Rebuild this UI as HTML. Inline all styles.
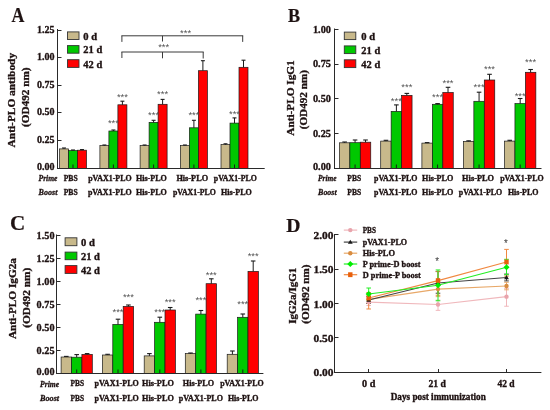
<!DOCTYPE html>
<html><head><meta charset="utf-8"><title>Figure</title>
<style>html,body{margin:0;padding:0;background:#fff;}svg{display:block;}</style>
</head><body>
<svg width="550" height="410" viewBox="0 0 550 410" font-family='"Liberation Serif", "Times New Roman", serif'>
<rect x="0" y="0" width="550" height="410" fill="#fff"/>
<rect x="59.5" y="148.9" width="9" height="19.6" fill="#c8b98b" stroke="#1a1a1a" stroke-width="0.7"/>
<line x1="64" y1="148.9" x2="64" y2="148" stroke="#1a1a1a" stroke-width="1"/>
<line x1="62.02" y1="148" x2="65.98" y2="148" stroke="#1a1a1a" stroke-width="1.1"/>
<rect x="68.5" y="150.6" width="9" height="17.9" fill="#00c800" stroke="#1a1a1a" stroke-width="0.7"/>
<line x1="73" y1="150.6" x2="73" y2="150" stroke="#1a1a1a" stroke-width="1"/>
<line x1="71.02" y1="150" x2="74.98" y2="150" stroke="#1a1a1a" stroke-width="1.1"/>
<rect x="77.5" y="150.2" width="9" height="18.3" fill="#ff0000" stroke="#1a1a1a" stroke-width="0.7"/>
<line x1="82" y1="150.2" x2="82" y2="149.6" stroke="#1a1a1a" stroke-width="1"/>
<line x1="80.02" y1="149.6" x2="83.98" y2="149.6" stroke="#1a1a1a" stroke-width="1.1"/>
<rect x="99.9" y="145.6" width="9" height="22.9" fill="#c8b98b" stroke="#1a1a1a" stroke-width="0.7"/>
<line x1="104.4" y1="145.6" x2="104.4" y2="145" stroke="#1a1a1a" stroke-width="1"/>
<line x1="102.42" y1="145" x2="106.38" y2="145" stroke="#1a1a1a" stroke-width="1.1"/>
<rect x="108.9" y="131" width="9" height="37.5" fill="#00c800" stroke="#1a1a1a" stroke-width="0.7"/>
<line x1="113.4" y1="131" x2="113.4" y2="130" stroke="#1a1a1a" stroke-width="1"/>
<line x1="111.42" y1="130" x2="115.38" y2="130" stroke="#1a1a1a" stroke-width="1.1"/>
<rect x="117.9" y="104.8" width="9" height="63.7" fill="#ff0000" stroke="#1a1a1a" stroke-width="0.7"/>
<line x1="122.4" y1="104.8" x2="122.4" y2="101.2" stroke="#1a1a1a" stroke-width="1"/>
<line x1="120.42" y1="101.2" x2="124.38" y2="101.2" stroke="#1a1a1a" stroke-width="1.1"/>
<rect x="140.1" y="145.6" width="9" height="22.9" fill="#c8b98b" stroke="#1a1a1a" stroke-width="0.7"/>
<line x1="144.6" y1="145.6" x2="144.6" y2="145" stroke="#1a1a1a" stroke-width="1"/>
<line x1="142.62" y1="145" x2="146.58" y2="145" stroke="#1a1a1a" stroke-width="1.1"/>
<rect x="149.1" y="122.4" width="9" height="46.1" fill="#00c800" stroke="#1a1a1a" stroke-width="0.7"/>
<line x1="153.6" y1="122.4" x2="153.6" y2="120.3" stroke="#1a1a1a" stroke-width="1"/>
<line x1="151.62" y1="120.3" x2="155.58" y2="120.3" stroke="#1a1a1a" stroke-width="1.1"/>
<rect x="158.1" y="104.3" width="9" height="64.2" fill="#ff0000" stroke="#1a1a1a" stroke-width="0.7"/>
<line x1="162.6" y1="104.3" x2="162.6" y2="99.4" stroke="#1a1a1a" stroke-width="1"/>
<line x1="160.62" y1="99.4" x2="164.58" y2="99.4" stroke="#1a1a1a" stroke-width="1.1"/>
<rect x="180.4" y="145.6" width="9" height="22.9" fill="#c8b98b" stroke="#1a1a1a" stroke-width="0.7"/>
<line x1="184.9" y1="145.6" x2="184.9" y2="145" stroke="#1a1a1a" stroke-width="1"/>
<line x1="182.92" y1="145" x2="186.88" y2="145" stroke="#1a1a1a" stroke-width="1.1"/>
<rect x="189.4" y="127.8" width="9" height="40.7" fill="#00c800" stroke="#1a1a1a" stroke-width="0.7"/>
<line x1="193.9" y1="127.8" x2="193.9" y2="120.3" stroke="#1a1a1a" stroke-width="1"/>
<line x1="191.92" y1="120.3" x2="195.88" y2="120.3" stroke="#1a1a1a" stroke-width="1.1"/>
<rect x="198.4" y="70.7" width="9" height="97.8" fill="#ff0000" stroke="#1a1a1a" stroke-width="0.7"/>
<line x1="202.9" y1="70.7" x2="202.9" y2="60.7" stroke="#1a1a1a" stroke-width="1"/>
<line x1="200.92" y1="60.7" x2="204.88" y2="60.7" stroke="#1a1a1a" stroke-width="1.1"/>
<rect x="221" y="144.6" width="9" height="23.9" fill="#c8b98b" stroke="#1a1a1a" stroke-width="0.7"/>
<line x1="225.5" y1="144.6" x2="225.5" y2="143.8" stroke="#1a1a1a" stroke-width="1"/>
<line x1="223.52" y1="143.8" x2="227.48" y2="143.8" stroke="#1a1a1a" stroke-width="1.1"/>
<rect x="230" y="123.1" width="9" height="45.4" fill="#00c800" stroke="#1a1a1a" stroke-width="0.7"/>
<line x1="234.5" y1="123.1" x2="234.5" y2="117.9" stroke="#1a1a1a" stroke-width="1"/>
<line x1="232.52" y1="117.9" x2="236.48" y2="117.9" stroke="#1a1a1a" stroke-width="1.1"/>
<rect x="239" y="67.3" width="9" height="101.2" fill="#ff0000" stroke="#1a1a1a" stroke-width="0.7"/>
<line x1="243.5" y1="67.3" x2="243.5" y2="60.2" stroke="#1a1a1a" stroke-width="1"/>
<line x1="241.52" y1="60.2" x2="245.48" y2="60.2" stroke="#1a1a1a" stroke-width="1.1"/>
<text x="107.9" y="126.12" font-family="Liberation Sans, Arial, sans-serif" font-size="9.2" fill="#505050" textLength="11" lengthAdjust="spacingAndGlyphs">***</text>
<text x="116.9" y="99.52" font-family="Liberation Sans, Arial, sans-serif" font-size="9.2" fill="#505050" textLength="11" lengthAdjust="spacingAndGlyphs">***</text>
<text x="148.1" y="117.92" font-family="Liberation Sans, Arial, sans-serif" font-size="9.2" fill="#505050" textLength="11" lengthAdjust="spacingAndGlyphs">***</text>
<text x="157.1" y="97.22" font-family="Liberation Sans, Arial, sans-serif" font-size="9.2" fill="#505050" textLength="11" lengthAdjust="spacingAndGlyphs">***</text>
<text x="188.4" y="117.92" font-family="Liberation Sans, Arial, sans-serif" font-size="9.2" fill="#505050" textLength="11" lengthAdjust="spacingAndGlyphs">***</text>
<text x="229" y="116.82" font-family="Liberation Sans, Arial, sans-serif" font-size="9.2" fill="#505050" textLength="11" lengthAdjust="spacingAndGlyphs">***</text>
<line x1="73" y1="164.5" x2="73" y2="168.5" stroke="#1a1a1a" stroke-width="1"/>
<line x1="113.4" y1="164.5" x2="113.4" y2="168.5" stroke="#1a1a1a" stroke-width="1"/>
<line x1="153.6" y1="164.5" x2="153.6" y2="168.5" stroke="#1a1a1a" stroke-width="1"/>
<line x1="193.9" y1="164.5" x2="193.9" y2="168.5" stroke="#1a1a1a" stroke-width="1"/>
<line x1="234.5" y1="164.5" x2="234.5" y2="168.5" stroke="#1a1a1a" stroke-width="1"/>
<line x1="57.5" y1="29" x2="57.5" y2="169" stroke="#2a2a2a" stroke-width="1"/>
<line x1="57" y1="168.5" x2="264.7" y2="168.5" stroke="#2a2a2a" stroke-width="1"/>
<text x="37" y="170.2" font-size="11.4" font-weight="bold" fill="#1e1212" stroke="#1e1212" stroke-width="0.35" textLength="17.6" lengthAdjust="spacingAndGlyphs">0.00</text>
<line x1="57.5" y1="140.5" x2="61.5" y2="140.5" stroke="#2a2a2a" stroke-width="1"/>
<text x="37" y="142.9" font-size="11.4" font-weight="bold" fill="#1e1212" stroke="#1e1212" stroke-width="0.35" textLength="17.6" lengthAdjust="spacingAndGlyphs">0.25</text>
<line x1="57.5" y1="112.5" x2="61.5" y2="112.5" stroke="#2a2a2a" stroke-width="1"/>
<text x="37" y="115.4" font-size="11.4" font-weight="bold" fill="#1e1212" stroke="#1e1212" stroke-width="0.35" textLength="17.6" lengthAdjust="spacingAndGlyphs">0.50</text>
<line x1="57.5" y1="85.5" x2="61.5" y2="85.5" stroke="#2a2a2a" stroke-width="1"/>
<text x="37" y="87.9" font-size="11.4" font-weight="bold" fill="#1e1212" stroke="#1e1212" stroke-width="0.35" textLength="17.6" lengthAdjust="spacingAndGlyphs">0.75</text>
<line x1="57.5" y1="57.5" x2="61.5" y2="57.5" stroke="#2a2a2a" stroke-width="1"/>
<text x="37" y="60.4" font-size="11.4" font-weight="bold" fill="#1e1212" stroke="#1e1212" stroke-width="0.35" textLength="17.6" lengthAdjust="spacingAndGlyphs">1.00</text>
<line x1="57.5" y1="30.5" x2="61.5" y2="30.5" stroke="#2a2a2a" stroke-width="1"/>
<text x="37" y="32.9" font-size="11.4" font-weight="bold" fill="#1e1212" stroke="#1e1212" stroke-width="0.35" textLength="17.6" lengthAdjust="spacingAndGlyphs">1.25</text>
<rect x="67.5" y="31.9" width="11.5" height="7.6" fill="#c8b98b" stroke="#333" stroke-width="0.9"/>
<text x="83.3" y="39.7" font-size="10" font-weight="bold" fill="#1e1212" stroke="#1e1212" stroke-width="0.35" textLength="13.8" lengthAdjust="spacingAndGlyphs">0 d</text>
<rect x="67.5" y="45.6" width="11.5" height="7.6" fill="#00c800" stroke="#333" stroke-width="0.9"/>
<text x="83.3" y="53.4" font-size="10" font-weight="bold" fill="#1e1212" stroke="#1e1212" stroke-width="0.35" textLength="18.9" lengthAdjust="spacingAndGlyphs">21 d</text>
<rect x="67.5" y="59.7" width="11.5" height="7.7" fill="#ff0000" stroke="#333" stroke-width="0.9"/>
<text x="83.3" y="67.6" font-size="10" font-weight="bold" fill="#1e1212" stroke="#1e1212" stroke-width="0.35" textLength="18.9" lengthAdjust="spacingAndGlyphs">42 d</text>
<text x="11.4" y="21.9" font-size="20" font-weight="bold" fill="#1e1212" stroke="#1e1212" stroke-width="0.2" textLength="12.9" lengthAdjust="spacingAndGlyphs">A</text>
<text transform="translate(15.4,147.4) scale(0.88,1) rotate(-90)" x="0" y="0" font-size="11.4" font-weight="bold" fill="#1e1212" stroke="#1e1212" stroke-width="0.35" textLength="94.5" lengthAdjust="spacingAndGlyphs">Anti-PLO antibody</text>
<text transform="translate(28.7,126.9) scale(0.88,1) rotate(-90)" x="0" y="0" font-size="11.3" font-weight="bold" fill="#1e1212" stroke="#1e1212" stroke-width="0.35" textLength="59.4" lengthAdjust="spacingAndGlyphs">(OD492 nm)</text>
<text x="38.6" y="180.5" font-size="8.6" font-weight="bold" font-style="italic" fill="#1e1212" stroke="#1e1212" stroke-width="0.3" textLength="18.8" lengthAdjust="spacingAndGlyphs">Prime</text>
<text x="38.6" y="195" font-size="8.6" font-weight="bold" font-style="italic" fill="#1e1212" stroke="#1e1212" stroke-width="0.3" textLength="18.8" lengthAdjust="spacingAndGlyphs">Boost</text>
<text x="63.7" y="180.6" font-size="8.6" font-weight="bold" fill="#1e1212" stroke="#1e1212" stroke-width="0.35" textLength="14" lengthAdjust="spacingAndGlyphs">PBS</text>
<text x="88.2" y="180.6" font-size="8.6" font-weight="bold" fill="#1e1212" stroke="#1e1212" stroke-width="0.35" textLength="43.5" lengthAdjust="spacingAndGlyphs">pVAX1-PLO</text>
<text x="135.9" y="180.6" font-size="8.6" font-weight="bold" fill="#1e1212" stroke="#1e1212" stroke-width="0.35" textLength="31" lengthAdjust="spacingAndGlyphs">His-PLO</text>
<text x="176.4" y="180.6" font-size="8.6" font-weight="bold" fill="#1e1212" stroke="#1e1212" stroke-width="0.35" textLength="31.7" lengthAdjust="spacingAndGlyphs">His-PLO</text>
<text x="213.8" y="180.6" font-size="8.6" font-weight="bold" fill="#1e1212" stroke="#1e1212" stroke-width="0.35" textLength="43" lengthAdjust="spacingAndGlyphs">pVAX1-PLO</text>
<text x="63.7" y="195" font-size="8.6" font-weight="bold" fill="#1e1212" stroke="#1e1212" stroke-width="0.35" textLength="14" lengthAdjust="spacingAndGlyphs">PBS</text>
<text x="87.9" y="195" font-size="8.6" font-weight="bold" fill="#1e1212" stroke="#1e1212" stroke-width="0.35" textLength="43.8" lengthAdjust="spacingAndGlyphs">pVAX1-PLO</text>
<text x="135.9" y="195" font-size="8.6" font-weight="bold" fill="#1e1212" stroke="#1e1212" stroke-width="0.35" textLength="31" lengthAdjust="spacingAndGlyphs">His-PLO</text>
<text x="172.9" y="195" font-size="8.6" font-weight="bold" fill="#1e1212" stroke="#1e1212" stroke-width="0.35" textLength="43" lengthAdjust="spacingAndGlyphs">pVAX1-PLO</text>
<text x="220.9" y="195" font-size="8.6" font-weight="bold" fill="#1e1212" stroke="#1e1212" stroke-width="0.35" textLength="31" lengthAdjust="spacingAndGlyphs">His-PLO</text>
<line x1="121.4" y1="35.8" x2="243.2" y2="35.8" stroke="#3a3a3a" stroke-width="1"/>
<line x1="121.9" y1="35.8" x2="121.9" y2="41.9" stroke="#3a3a3a" stroke-width="1"/>
<line x1="242.7" y1="35.8" x2="242.7" y2="41.9" stroke="#3a3a3a" stroke-width="1"/>
<line x1="162.5" y1="35.8" x2="162.5" y2="41.5" stroke="#3a3a3a" stroke-width="1"/>
<line x1="121.4" y1="52" x2="203.7" y2="52" stroke="#3a3a3a" stroke-width="1"/>
<line x1="121.9" y1="52" x2="121.9" y2="58" stroke="#3a3a3a" stroke-width="1"/>
<line x1="203.2" y1="52" x2="203.2" y2="58.5" stroke="#3a3a3a" stroke-width="1"/>
<line x1="162.5" y1="52" x2="162.5" y2="58.3" stroke="#3a3a3a" stroke-width="1"/>
<text x="180.1" y="36.12" font-family="Liberation Sans, Arial, sans-serif" font-size="9.2" fill="#505050" textLength="11" lengthAdjust="spacingAndGlyphs">***</text>
<text x="158.2" y="50.02" font-family="Liberation Sans, Arial, sans-serif" font-size="9.2" fill="#505050" textLength="11" lengthAdjust="spacingAndGlyphs">***</text>
<rect x="339.4" y="142.8" width="10.45" height="25.7" fill="#c8b98b" stroke="#1a1a1a" stroke-width="0.7"/>
<line x1="344.62" y1="142.8" x2="344.62" y2="142" stroke="#1a1a1a" stroke-width="1"/>
<line x1="342.33" y1="142" x2="346.92" y2="142" stroke="#1a1a1a" stroke-width="1.1"/>
<rect x="349.85" y="142.7" width="10.45" height="25.8" fill="#00c800" stroke="#1a1a1a" stroke-width="0.7"/>
<line x1="355.07" y1="142.7" x2="355.07" y2="140" stroke="#1a1a1a" stroke-width="1"/>
<line x1="352.78" y1="140" x2="357.37" y2="140" stroke="#1a1a1a" stroke-width="1.1"/>
<rect x="360.3" y="142.2" width="10.45" height="26.3" fill="#ff0000" stroke="#1a1a1a" stroke-width="0.7"/>
<line x1="365.52" y1="142.2" x2="365.52" y2="140" stroke="#1a1a1a" stroke-width="1"/>
<line x1="363.23" y1="140" x2="367.82" y2="140" stroke="#1a1a1a" stroke-width="1.1"/>
<rect x="380.7" y="141.1" width="10.45" height="27.4" fill="#c8b98b" stroke="#1a1a1a" stroke-width="0.7"/>
<line x1="385.93" y1="141.1" x2="385.93" y2="140.3" stroke="#1a1a1a" stroke-width="1"/>
<line x1="383.63" y1="140.3" x2="388.22" y2="140.3" stroke="#1a1a1a" stroke-width="1.1"/>
<rect x="391.15" y="111.4" width="10.45" height="57.1" fill="#00c800" stroke="#1a1a1a" stroke-width="0.7"/>
<line x1="396.38" y1="111.4" x2="396.38" y2="104.9" stroke="#1a1a1a" stroke-width="1"/>
<line x1="394.08" y1="104.9" x2="398.67" y2="104.9" stroke="#1a1a1a" stroke-width="1.1"/>
<rect x="401.6" y="95.4" width="10.45" height="73.1" fill="#ff0000" stroke="#1a1a1a" stroke-width="0.7"/>
<line x1="406.82" y1="95.4" x2="406.82" y2="93.4" stroke="#1a1a1a" stroke-width="1"/>
<line x1="404.53" y1="93.4" x2="409.12" y2="93.4" stroke="#1a1a1a" stroke-width="1.1"/>
<rect x="421.9" y="143.1" width="10.45" height="25.4" fill="#c8b98b" stroke="#1a1a1a" stroke-width="0.7"/>
<line x1="427.12" y1="143.1" x2="427.12" y2="142.6" stroke="#1a1a1a" stroke-width="1"/>
<line x1="424.83" y1="142.6" x2="429.42" y2="142.6" stroke="#1a1a1a" stroke-width="1.1"/>
<rect x="432.35" y="104.3" width="10.45" height="64.2" fill="#00c800" stroke="#1a1a1a" stroke-width="0.7"/>
<line x1="437.57" y1="104.3" x2="437.57" y2="103.6" stroke="#1a1a1a" stroke-width="1"/>
<line x1="435.28" y1="103.6" x2="439.87" y2="103.6" stroke="#1a1a1a" stroke-width="1.1"/>
<rect x="442.8" y="92.5" width="10.45" height="76" fill="#ff0000" stroke="#1a1a1a" stroke-width="0.7"/>
<line x1="448.02" y1="92.5" x2="448.02" y2="87.3" stroke="#1a1a1a" stroke-width="1"/>
<line x1="445.73" y1="87.3" x2="450.32" y2="87.3" stroke="#1a1a1a" stroke-width="1.1"/>
<rect x="463.4" y="141.4" width="10.45" height="27.1" fill="#c8b98b" stroke="#1a1a1a" stroke-width="0.7"/>
<line x1="468.62" y1="141.4" x2="468.62" y2="140.8" stroke="#1a1a1a" stroke-width="1"/>
<line x1="466.33" y1="140.8" x2="470.92" y2="140.8" stroke="#1a1a1a" stroke-width="1.1"/>
<rect x="473.85" y="101.3" width="10.45" height="67.2" fill="#00c800" stroke="#1a1a1a" stroke-width="0.7"/>
<line x1="479.07" y1="101.3" x2="479.07" y2="92.2" stroke="#1a1a1a" stroke-width="1"/>
<line x1="476.78" y1="92.2" x2="481.37" y2="92.2" stroke="#1a1a1a" stroke-width="1.1"/>
<rect x="484.3" y="80" width="10.45" height="88.5" fill="#ff0000" stroke="#1a1a1a" stroke-width="0.7"/>
<line x1="489.52" y1="80" x2="489.52" y2="74.3" stroke="#1a1a1a" stroke-width="1"/>
<line x1="487.23" y1="74.3" x2="491.82" y2="74.3" stroke="#1a1a1a" stroke-width="1.1"/>
<rect x="504.5" y="141.1" width="10.45" height="27.4" fill="#c8b98b" stroke="#1a1a1a" stroke-width="0.7"/>
<line x1="509.73" y1="141.1" x2="509.73" y2="140.3" stroke="#1a1a1a" stroke-width="1"/>
<line x1="507.43" y1="140.3" x2="512.02" y2="140.3" stroke="#1a1a1a" stroke-width="1.1"/>
<rect x="514.95" y="103.6" width="10.45" height="64.9" fill="#00c800" stroke="#1a1a1a" stroke-width="0.7"/>
<line x1="520.18" y1="103.6" x2="520.18" y2="98.5" stroke="#1a1a1a" stroke-width="1"/>
<line x1="517.88" y1="98.5" x2="522.47" y2="98.5" stroke="#1a1a1a" stroke-width="1.1"/>
<rect x="525.4" y="72.3" width="10.45" height="96.2" fill="#ff0000" stroke="#1a1a1a" stroke-width="0.7"/>
<line x1="530.62" y1="72.3" x2="530.62" y2="69.5" stroke="#1a1a1a" stroke-width="1"/>
<line x1="528.33" y1="69.5" x2="532.92" y2="69.5" stroke="#1a1a1a" stroke-width="1.1"/>
<text x="390.88" y="103.92" font-family="Liberation Sans, Arial, sans-serif" font-size="9.2" fill="#505050" textLength="11" lengthAdjust="spacingAndGlyphs">***</text>
<text x="401.32" y="90.32" font-family="Liberation Sans, Arial, sans-serif" font-size="9.2" fill="#505050" textLength="11" lengthAdjust="spacingAndGlyphs">***</text>
<text x="432.07" y="99.82" font-family="Liberation Sans, Arial, sans-serif" font-size="9.2" fill="#505050" textLength="11" lengthAdjust="spacingAndGlyphs">***</text>
<text x="442.52" y="85.92" font-family="Liberation Sans, Arial, sans-serif" font-size="9.2" fill="#505050" textLength="11" lengthAdjust="spacingAndGlyphs">***</text>
<text x="473.57" y="89.92" font-family="Liberation Sans, Arial, sans-serif" font-size="9.2" fill="#505050" textLength="11" lengthAdjust="spacingAndGlyphs">***</text>
<text x="484.02" y="71.92" font-family="Liberation Sans, Arial, sans-serif" font-size="9.2" fill="#505050" textLength="11" lengthAdjust="spacingAndGlyphs">***</text>
<text x="514.68" y="98.62" font-family="Liberation Sans, Arial, sans-serif" font-size="9.2" fill="#505050" textLength="11" lengthAdjust="spacingAndGlyphs">***</text>
<text x="525.12" y="65.42" font-family="Liberation Sans, Arial, sans-serif" font-size="9.2" fill="#505050" textLength="11" lengthAdjust="spacingAndGlyphs">***</text>
<line x1="355.07" y1="164.5" x2="355.07" y2="168.5" stroke="#1a1a1a" stroke-width="1"/>
<line x1="396.38" y1="164.5" x2="396.38" y2="168.5" stroke="#1a1a1a" stroke-width="1"/>
<line x1="437.57" y1="164.5" x2="437.57" y2="168.5" stroke="#1a1a1a" stroke-width="1"/>
<line x1="479.07" y1="164.5" x2="479.07" y2="168.5" stroke="#1a1a1a" stroke-width="1"/>
<line x1="520.17" y1="164.5" x2="520.17" y2="168.5" stroke="#1a1a1a" stroke-width="1"/>
<line x1="334.5" y1="28.5" x2="334.5" y2="169" stroke="#2a2a2a" stroke-width="1"/>
<line x1="334" y1="168.5" x2="541.5" y2="168.5" stroke="#2a2a2a" stroke-width="1"/>
<text x="312.9" y="169.7" font-size="11.4" font-weight="bold" fill="#1e1212" stroke="#1e1212" stroke-width="0.35" textLength="18.1" lengthAdjust="spacingAndGlyphs">0.00</text>
<line x1="334.5" y1="133.5" x2="338.5" y2="133.5" stroke="#2a2a2a" stroke-width="1"/>
<text x="312.9" y="136.8" font-size="11.4" font-weight="bold" fill="#1e1212" stroke="#1e1212" stroke-width="0.35" textLength="18.1" lengthAdjust="spacingAndGlyphs">0.25</text>
<line x1="334.5" y1="98.5" x2="338.5" y2="98.5" stroke="#2a2a2a" stroke-width="1"/>
<text x="312.9" y="102.1" font-size="11.4" font-weight="bold" fill="#1e1212" stroke="#1e1212" stroke-width="0.35" textLength="18.1" lengthAdjust="spacingAndGlyphs">0.50</text>
<line x1="334.5" y1="64.5" x2="338.5" y2="64.5" stroke="#2a2a2a" stroke-width="1"/>
<text x="312.9" y="67.4" font-size="11.4" font-weight="bold" fill="#1e1212" stroke="#1e1212" stroke-width="0.35" textLength="18.1" lengthAdjust="spacingAndGlyphs">0.75</text>
<line x1="334.5" y1="29.5" x2="338.5" y2="29.5" stroke="#2a2a2a" stroke-width="1"/>
<text x="312.9" y="32.7" font-size="11.4" font-weight="bold" fill="#1e1212" stroke="#1e1212" stroke-width="0.35" textLength="18.1" lengthAdjust="spacingAndGlyphs">1.00</text>
<rect x="344.3" y="32.1" width="11.5" height="7.5" fill="#c8b98b" stroke="#333" stroke-width="0.9"/>
<text x="361.3" y="39.8" font-size="10" font-weight="bold" fill="#1e1212" stroke="#1e1212" stroke-width="0.35" textLength="13.8" lengthAdjust="spacingAndGlyphs">0 d</text>
<rect x="344.3" y="45.9" width="11.5" height="7.7" fill="#00c800" stroke="#333" stroke-width="0.9"/>
<text x="361.3" y="53.8" font-size="10" font-weight="bold" fill="#1e1212" stroke="#1e1212" stroke-width="0.35" textLength="18.9" lengthAdjust="spacingAndGlyphs">21 d</text>
<rect x="344.3" y="59.8" width="11.5" height="7.8" fill="#ff0000" stroke="#333" stroke-width="0.9"/>
<text x="361.3" y="67.8" font-size="10" font-weight="bold" fill="#1e1212" stroke="#1e1212" stroke-width="0.35" textLength="18.9" lengthAdjust="spacingAndGlyphs">42 d</text>
<text x="288.1" y="21.9" font-size="19.5" font-weight="bold" fill="#1e1212" stroke="#1e1212" stroke-width="0.2" textLength="12.1" lengthAdjust="spacingAndGlyphs">B</text>
<text transform="translate(293.6,135.7) scale(0.88,1) rotate(-90)" x="0" y="0" font-size="11.3" font-weight="bold" fill="#1e1212" stroke="#1e1212" stroke-width="0.35" textLength="75.4" lengthAdjust="spacingAndGlyphs">Anti-PLO IgG1</text>
<text transform="translate(307.3,129.3) scale(0.88,1) rotate(-90)" x="0" y="0" font-size="11.2" font-weight="bold" fill="#1e1212" stroke="#1e1212" stroke-width="0.35" textLength="59.2" lengthAdjust="spacingAndGlyphs">(OD492 nm)</text>
<text x="318.1" y="181" font-size="8.6" font-weight="bold" font-style="italic" fill="#1e1212" stroke="#1e1212" stroke-width="0.3" textLength="18.5" lengthAdjust="spacingAndGlyphs">Prime</text>
<text x="318.1" y="195.3" font-size="8.6" font-weight="bold" font-style="italic" fill="#1e1212" stroke="#1e1212" stroke-width="0.3" textLength="18.5" lengthAdjust="spacingAndGlyphs">Boost</text>
<text x="347.3" y="180.9" font-size="8.6" font-weight="bold" fill="#1e1212" stroke="#1e1212" stroke-width="0.35" textLength="13.8" lengthAdjust="spacingAndGlyphs">PBS</text>
<text x="374" y="180.9" font-size="8.6" font-weight="bold" fill="#1e1212" stroke="#1e1212" stroke-width="0.35" textLength="43.5" lengthAdjust="spacingAndGlyphs">pVAX1-PLO</text>
<text x="422.1" y="180.9" font-size="8.6" font-weight="bold" fill="#1e1212" stroke="#1e1212" stroke-width="0.35" textLength="31.3" lengthAdjust="spacingAndGlyphs">His-PLO</text>
<text x="462.1" y="180.9" font-size="8.6" font-weight="bold" fill="#1e1212" stroke="#1e1212" stroke-width="0.35" textLength="32" lengthAdjust="spacingAndGlyphs">His-PLO</text>
<text x="500.2" y="180.9" font-size="8.6" font-weight="bold" fill="#1e1212" stroke="#1e1212" stroke-width="0.35" textLength="43.5" lengthAdjust="spacingAndGlyphs">pVAX1-PLO</text>
<text x="347.3" y="195.3" font-size="8.6" font-weight="bold" fill="#1e1212" stroke="#1e1212" stroke-width="0.35" textLength="13.8" lengthAdjust="spacingAndGlyphs">PBS</text>
<text x="374" y="195.3" font-size="8.6" font-weight="bold" fill="#1e1212" stroke="#1e1212" stroke-width="0.35" textLength="43.5" lengthAdjust="spacingAndGlyphs">pVAX1-PLO</text>
<text x="422.1" y="195.3" font-size="8.6" font-weight="bold" fill="#1e1212" stroke="#1e1212" stroke-width="0.35" textLength="31.3" lengthAdjust="spacingAndGlyphs">His-PLO</text>
<text x="458.8" y="195.3" font-size="8.6" font-weight="bold" fill="#1e1212" stroke="#1e1212" stroke-width="0.35" textLength="43.4" lengthAdjust="spacingAndGlyphs">pVAX1-PLO</text>
<text x="507.9" y="195.3" font-size="8.6" font-weight="bold" fill="#1e1212" stroke="#1e1212" stroke-width="0.35" textLength="30.7" lengthAdjust="spacingAndGlyphs">His-PLO</text>
<rect x="61.1" y="357" width="10.4" height="16.5" fill="#c8b98b" stroke="#1a1a1a" stroke-width="0.7"/>
<line x1="66.3" y1="357" x2="66.3" y2="356.4" stroke="#1a1a1a" stroke-width="1"/>
<line x1="64.01" y1="356.4" x2="68.59" y2="356.4" stroke="#1a1a1a" stroke-width="1.1"/>
<rect x="71.5" y="357.2" width="10.4" height="16.3" fill="#00c800" stroke="#1a1a1a" stroke-width="0.7"/>
<line x1="76.7" y1="357.2" x2="76.7" y2="354.6" stroke="#1a1a1a" stroke-width="1"/>
<line x1="74.41" y1="354.6" x2="78.99" y2="354.6" stroke="#1a1a1a" stroke-width="1.1"/>
<rect x="81.9" y="354.4" width="10.4" height="19.1" fill="#ff0000" stroke="#1a1a1a" stroke-width="0.7"/>
<line x1="87.1" y1="354.4" x2="87.1" y2="353.6" stroke="#1a1a1a" stroke-width="1"/>
<line x1="84.81" y1="353.6" x2="89.39" y2="353.6" stroke="#1a1a1a" stroke-width="1.1"/>
<rect x="102.4" y="355" width="10.4" height="18.5" fill="#c8b98b" stroke="#1a1a1a" stroke-width="0.7"/>
<line x1="107.6" y1="355" x2="107.6" y2="354.3" stroke="#1a1a1a" stroke-width="1"/>
<line x1="105.31" y1="354.3" x2="109.89" y2="354.3" stroke="#1a1a1a" stroke-width="1.1"/>
<rect x="112.8" y="324.4" width="10.4" height="49.1" fill="#00c800" stroke="#1a1a1a" stroke-width="0.7"/>
<line x1="118" y1="324.4" x2="118" y2="319.2" stroke="#1a1a1a" stroke-width="1"/>
<line x1="115.71" y1="319.2" x2="120.29" y2="319.2" stroke="#1a1a1a" stroke-width="1.1"/>
<rect x="123.2" y="306.4" width="10.4" height="67.1" fill="#ff0000" stroke="#1a1a1a" stroke-width="0.7"/>
<line x1="128.4" y1="306.4" x2="128.4" y2="305" stroke="#1a1a1a" stroke-width="1"/>
<line x1="126.11" y1="305" x2="130.69" y2="305" stroke="#1a1a1a" stroke-width="1.1"/>
<rect x="144.2" y="355.9" width="10.4" height="17.6" fill="#c8b98b" stroke="#1a1a1a" stroke-width="0.7"/>
<line x1="149.4" y1="355.9" x2="149.4" y2="353.6" stroke="#1a1a1a" stroke-width="1"/>
<line x1="147.11" y1="353.6" x2="151.69" y2="353.6" stroke="#1a1a1a" stroke-width="1.1"/>
<rect x="154.6" y="322.3" width="10.4" height="51.2" fill="#00c800" stroke="#1a1a1a" stroke-width="0.7"/>
<line x1="159.8" y1="322.3" x2="159.8" y2="317.2" stroke="#1a1a1a" stroke-width="1"/>
<line x1="157.51" y1="317.2" x2="162.09" y2="317.2" stroke="#1a1a1a" stroke-width="1.1"/>
<rect x="165" y="310" width="10.4" height="63.5" fill="#ff0000" stroke="#1a1a1a" stroke-width="0.7"/>
<line x1="170.2" y1="310" x2="170.2" y2="307.5" stroke="#1a1a1a" stroke-width="1"/>
<line x1="167.91" y1="307.5" x2="172.49" y2="307.5" stroke="#1a1a1a" stroke-width="1.1"/>
<rect x="185.3" y="353.6" width="10.4" height="19.9" fill="#c8b98b" stroke="#1a1a1a" stroke-width="0.7"/>
<line x1="190.5" y1="353.6" x2="190.5" y2="353" stroke="#1a1a1a" stroke-width="1"/>
<line x1="188.21" y1="353" x2="192.79" y2="353" stroke="#1a1a1a" stroke-width="1.1"/>
<rect x="195.7" y="314.1" width="10.4" height="59.4" fill="#00c800" stroke="#1a1a1a" stroke-width="0.7"/>
<line x1="200.9" y1="314.1" x2="200.9" y2="310.5" stroke="#1a1a1a" stroke-width="1"/>
<line x1="198.61" y1="310.5" x2="203.19" y2="310.5" stroke="#1a1a1a" stroke-width="1.1"/>
<rect x="206.1" y="283.7" width="10.4" height="89.8" fill="#ff0000" stroke="#1a1a1a" stroke-width="0.7"/>
<line x1="211.3" y1="283.7" x2="211.3" y2="278.8" stroke="#1a1a1a" stroke-width="1"/>
<line x1="209.01" y1="278.8" x2="213.59" y2="278.8" stroke="#1a1a1a" stroke-width="1.1"/>
<rect x="227.2" y="354.3" width="10.4" height="19.2" fill="#c8b98b" stroke="#1a1a1a" stroke-width="0.7"/>
<line x1="232.4" y1="354.3" x2="232.4" y2="351" stroke="#1a1a1a" stroke-width="1"/>
<line x1="230.11" y1="351" x2="234.69" y2="351" stroke="#1a1a1a" stroke-width="1.1"/>
<rect x="237.6" y="317.3" width="10.4" height="56.2" fill="#00c800" stroke="#1a1a1a" stroke-width="0.7"/>
<line x1="242.8" y1="317.3" x2="242.8" y2="314" stroke="#1a1a1a" stroke-width="1"/>
<line x1="240.51" y1="314" x2="245.09" y2="314" stroke="#1a1a1a" stroke-width="1.1"/>
<rect x="248" y="271.4" width="10.4" height="102.1" fill="#ff0000" stroke="#1a1a1a" stroke-width="0.7"/>
<line x1="253.2" y1="271.4" x2="253.2" y2="261" stroke="#1a1a1a" stroke-width="1"/>
<line x1="250.91" y1="261" x2="255.49" y2="261" stroke="#1a1a1a" stroke-width="1.1"/>
<text x="112.5" y="314.72" font-family="Liberation Sans, Arial, sans-serif" font-size="9.2" fill="#505050" textLength="11" lengthAdjust="spacingAndGlyphs">***</text>
<text x="122.9" y="299.62" font-family="Liberation Sans, Arial, sans-serif" font-size="9.2" fill="#505050" textLength="11" lengthAdjust="spacingAndGlyphs">***</text>
<text x="154.3" y="314.72" font-family="Liberation Sans, Arial, sans-serif" font-size="9.2" fill="#505050" textLength="11" lengthAdjust="spacingAndGlyphs">***</text>
<text x="164.7" y="305.22" font-family="Liberation Sans, Arial, sans-serif" font-size="9.2" fill="#505050" textLength="11" lengthAdjust="spacingAndGlyphs">***</text>
<text x="195.4" y="302.82" font-family="Liberation Sans, Arial, sans-serif" font-size="9.2" fill="#505050" textLength="11" lengthAdjust="spacingAndGlyphs">***</text>
<text x="205.8" y="277.82" font-family="Liberation Sans, Arial, sans-serif" font-size="9.2" fill="#505050" textLength="11" lengthAdjust="spacingAndGlyphs">***</text>
<text x="237.3" y="307.22" font-family="Liberation Sans, Arial, sans-serif" font-size="9.2" fill="#505050" textLength="11" lengthAdjust="spacingAndGlyphs">***</text>
<text x="247.7" y="259.12" font-family="Liberation Sans, Arial, sans-serif" font-size="9.2" fill="#505050" textLength="11" lengthAdjust="spacingAndGlyphs">***</text>
<line x1="76.7" y1="369.5" x2="76.7" y2="373.5" stroke="#1a1a1a" stroke-width="1"/>
<line x1="118" y1="369.5" x2="118" y2="373.5" stroke="#1a1a1a" stroke-width="1"/>
<line x1="159.8" y1="369.5" x2="159.8" y2="373.5" stroke="#1a1a1a" stroke-width="1"/>
<line x1="200.9" y1="369.5" x2="200.9" y2="373.5" stroke="#1a1a1a" stroke-width="1"/>
<line x1="242.8" y1="369.5" x2="242.8" y2="373.5" stroke="#1a1a1a" stroke-width="1"/>
<line x1="56.5" y1="234.5" x2="56.5" y2="374" stroke="#2a2a2a" stroke-width="1"/>
<line x1="56" y1="373.5" x2="263.4" y2="373.5" stroke="#2a2a2a" stroke-width="1"/>
<text x="36.6" y="374.6" font-size="11.4" font-weight="bold" fill="#1e1212" stroke="#1e1212" stroke-width="0.35" textLength="17.9" lengthAdjust="spacingAndGlyphs">0.00</text>
<line x1="56.5" y1="350.5" x2="60.5" y2="350.5" stroke="#2a2a2a" stroke-width="1"/>
<text x="36.6" y="353.5" font-size="11.4" font-weight="bold" fill="#1e1212" stroke="#1e1212" stroke-width="0.35" textLength="17.9" lengthAdjust="spacingAndGlyphs">0.25</text>
<line x1="56.5" y1="327.5" x2="60.5" y2="327.5" stroke="#2a2a2a" stroke-width="1"/>
<text x="36.6" y="330.6" font-size="11.4" font-weight="bold" fill="#1e1212" stroke="#1e1212" stroke-width="0.35" textLength="17.9" lengthAdjust="spacingAndGlyphs">0.50</text>
<line x1="56.5" y1="304.5" x2="60.5" y2="304.5" stroke="#2a2a2a" stroke-width="1"/>
<text x="36.6" y="307.7" font-size="11.4" font-weight="bold" fill="#1e1212" stroke="#1e1212" stroke-width="0.35" textLength="17.9" lengthAdjust="spacingAndGlyphs">0.75</text>
<line x1="56.5" y1="281.5" x2="60.5" y2="281.5" stroke="#2a2a2a" stroke-width="1"/>
<text x="36.6" y="284.8" font-size="11.4" font-weight="bold" fill="#1e1212" stroke="#1e1212" stroke-width="0.35" textLength="17.9" lengthAdjust="spacingAndGlyphs">1.00</text>
<line x1="56.5" y1="258.5" x2="60.5" y2="258.5" stroke="#2a2a2a" stroke-width="1"/>
<text x="36.6" y="261.9" font-size="11.4" font-weight="bold" fill="#1e1212" stroke="#1e1212" stroke-width="0.35" textLength="17.9" lengthAdjust="spacingAndGlyphs">1.25</text>
<line x1="56.5" y1="235.5" x2="60.5" y2="235.5" stroke="#2a2a2a" stroke-width="1"/>
<text x="36.6" y="239" font-size="11.4" font-weight="bold" fill="#1e1212" stroke="#1e1212" stroke-width="0.35" textLength="17.9" lengthAdjust="spacingAndGlyphs">1.50</text>
<rect x="65.1" y="237.8" width="11.8" height="7.9" fill="#c8b98b" stroke="#333" stroke-width="0.9"/>
<text x="81" y="245.9" font-size="10" font-weight="bold" fill="#1e1212" stroke="#1e1212" stroke-width="0.35" textLength="13.8" lengthAdjust="spacingAndGlyphs">0 d</text>
<rect x="65.1" y="252.1" width="11.8" height="7.6" fill="#00c800" stroke="#333" stroke-width="0.9"/>
<text x="81" y="259.9" font-size="10" font-weight="bold" fill="#1e1212" stroke="#1e1212" stroke-width="0.35" textLength="18.9" lengthAdjust="spacingAndGlyphs">21 d</text>
<rect x="65.1" y="265.6" width="11.8" height="7.8" fill="#ff0000" stroke="#333" stroke-width="0.9"/>
<text x="81" y="273.6" font-size="10" font-weight="bold" fill="#1e1212" stroke="#1e1212" stroke-width="0.35" textLength="18.9" lengthAdjust="spacingAndGlyphs">42 d</text>
<text x="10.1" y="230.3" font-size="20.5" font-weight="bold" fill="#1e1212" stroke="#1e1212" stroke-width="0.2" textLength="15.2" lengthAdjust="spacingAndGlyphs">C</text>
<text transform="translate(16,339.1) scale(0.88,1) rotate(-90)" x="0" y="0" font-size="11.3" font-weight="bold" fill="#1e1212" stroke="#1e1212" stroke-width="0.35" textLength="81.1" lengthAdjust="spacingAndGlyphs">Anti-PLO IgG2a</text>
<text transform="translate(30.2,327.8) scale(0.88,1) rotate(-90)" x="0" y="0" font-size="11.4" font-weight="bold" fill="#1e1212" stroke="#1e1212" stroke-width="0.35" textLength="60" lengthAdjust="spacingAndGlyphs">(OD492 nm)</text>
<text x="40.1" y="386.6" font-size="8.6" font-weight="bold" font-style="italic" fill="#1e1212" stroke="#1e1212" stroke-width="0.3" textLength="19" lengthAdjust="spacingAndGlyphs">Prime</text>
<text x="40.1" y="400.9" font-size="8.6" font-weight="bold" font-style="italic" fill="#1e1212" stroke="#1e1212" stroke-width="0.3" textLength="19" lengthAdjust="spacingAndGlyphs">Boost</text>
<text x="70.6" y="386.4" font-size="8.6" font-weight="bold" fill="#1e1212" stroke="#1e1212" stroke-width="0.35" textLength="13.5" lengthAdjust="spacingAndGlyphs">PBS</text>
<text x="94.6" y="386.4" font-size="8.6" font-weight="bold" fill="#1e1212" stroke="#1e1212" stroke-width="0.35" textLength="44.2" lengthAdjust="spacingAndGlyphs">pVAX1-PLO</text>
<text x="142.1" y="386.4" font-size="8.6" font-weight="bold" fill="#1e1212" stroke="#1e1212" stroke-width="0.35" textLength="31.8" lengthAdjust="spacingAndGlyphs">His-PLO</text>
<text x="182.8" y="386.4" font-size="8.6" font-weight="bold" fill="#1e1212" stroke="#1e1212" stroke-width="0.35" textLength="31.3" lengthAdjust="spacingAndGlyphs">His-PLO</text>
<text x="220.2" y="386.4" font-size="8.6" font-weight="bold" fill="#1e1212" stroke="#1e1212" stroke-width="0.35" textLength="43.5" lengthAdjust="spacingAndGlyphs">pVAX1-PLO</text>
<text x="70.6" y="400.9" font-size="8.6" font-weight="bold" fill="#1e1212" stroke="#1e1212" stroke-width="0.35" textLength="13.5" lengthAdjust="spacingAndGlyphs">PBS</text>
<text x="94.6" y="400.9" font-size="8.6" font-weight="bold" fill="#1e1212" stroke="#1e1212" stroke-width="0.35" textLength="44.2" lengthAdjust="spacingAndGlyphs">pVAX1-PLO</text>
<text x="142.1" y="400.9" font-size="8.6" font-weight="bold" fill="#1e1212" stroke="#1e1212" stroke-width="0.35" textLength="31.8" lengthAdjust="spacingAndGlyphs">His-PLO</text>
<text x="178.8" y="400.9" font-size="8.6" font-weight="bold" fill="#1e1212" stroke="#1e1212" stroke-width="0.35" textLength="44.2" lengthAdjust="spacingAndGlyphs">pVAX1-PLO</text>
<text x="227.9" y="400.9" font-size="8.6" font-weight="bold" fill="#1e1212" stroke="#1e1212" stroke-width="0.35" textLength="30.7" lengthAdjust="spacingAndGlyphs">His-PLO</text>
<line x1="368.7" y1="298.7" x2="368.7" y2="305.56" stroke="#f0b8bc" stroke-width="1"/>
<line x1="366.4" y1="298.7" x2="371" y2="298.7" stroke="#f0b8bc" stroke-width="1"/>
<line x1="366.4" y1="305.56" x2="371" y2="305.56" stroke="#f0b8bc" stroke-width="1"/>
<line x1="438" y1="300.07" x2="438" y2="310.35" stroke="#f0b8bc" stroke-width="1"/>
<line x1="435.7" y1="300.07" x2="440.3" y2="300.07" stroke="#f0b8bc" stroke-width="1"/>
<line x1="435.7" y1="310.35" x2="440.3" y2="310.35" stroke="#f0b8bc" stroke-width="1"/>
<line x1="506.5" y1="288.43" x2="506.5" y2="306.24" stroke="#f0b8bc" stroke-width="1"/>
<line x1="504.2" y1="288.43" x2="508.8" y2="288.43" stroke="#f0b8bc" stroke-width="1"/>
<line x1="504.2" y1="306.24" x2="508.8" y2="306.24" stroke="#f0b8bc" stroke-width="1"/>
<line x1="368.7" y1="295.28" x2="368.7" y2="303.5" stroke="#e8a868" stroke-width="1"/>
<line x1="366.4" y1="295.28" x2="371" y2="295.28" stroke="#e8a868" stroke-width="1"/>
<line x1="366.4" y1="303.5" x2="371" y2="303.5" stroke="#e8a868" stroke-width="1"/>
<line x1="438" y1="281.58" x2="438" y2="296.65" stroke="#e8a868" stroke-width="1"/>
<line x1="435.7" y1="281.58" x2="440.3" y2="281.58" stroke="#e8a868" stroke-width="1"/>
<line x1="435.7" y1="296.65" x2="440.3" y2="296.65" stroke="#e8a868" stroke-width="1"/>
<line x1="506.5" y1="282.26" x2="506.5" y2="289.8" stroke="#e8a868" stroke-width="1"/>
<line x1="504.2" y1="282.26" x2="508.8" y2="282.26" stroke="#e8a868" stroke-width="1"/>
<line x1="504.2" y1="289.8" x2="508.8" y2="289.8" stroke="#e8a868" stroke-width="1"/>
<line x1="368.7" y1="296.65" x2="368.7" y2="303.5" stroke="#444444" stroke-width="1"/>
<line x1="366.4" y1="296.65" x2="371" y2="296.65" stroke="#444444" stroke-width="1"/>
<line x1="366.4" y1="303.5" x2="371" y2="303.5" stroke="#444444" stroke-width="1"/>
<line x1="438" y1="271.58" x2="438" y2="293.23" stroke="#444444" stroke-width="1"/>
<line x1="435.7" y1="271.58" x2="440.3" y2="271.58" stroke="#444444" stroke-width="1"/>
<line x1="435.7" y1="293.23" x2="440.3" y2="293.23" stroke="#444444" stroke-width="1"/>
<line x1="506.5" y1="274.05" x2="506.5" y2="280.89" stroke="#444444" stroke-width="1"/>
<line x1="504.2" y1="274.05" x2="508.8" y2="274.05" stroke="#444444" stroke-width="1"/>
<line x1="504.2" y1="280.89" x2="508.8" y2="280.89" stroke="#444444" stroke-width="1"/>
<line x1="368.7" y1="292.54" x2="368.7" y2="308.98" stroke="#f08840" stroke-width="1"/>
<line x1="366.4" y1="292.54" x2="371" y2="292.54" stroke="#f08840" stroke-width="1"/>
<line x1="366.4" y1="308.98" x2="371" y2="308.98" stroke="#f08840" stroke-width="1"/>
<line x1="438" y1="271.31" x2="438" y2="295.28" stroke="#f08840" stroke-width="1"/>
<line x1="435.7" y1="271.31" x2="440.3" y2="271.31" stroke="#f08840" stroke-width="1"/>
<line x1="435.7" y1="295.28" x2="440.3" y2="295.28" stroke="#f08840" stroke-width="1"/>
<line x1="506.5" y1="249.38" x2="506.5" y2="276.1" stroke="#f08840" stroke-width="1"/>
<line x1="504.2" y1="249.38" x2="508.8" y2="249.38" stroke="#f08840" stroke-width="1"/>
<line x1="504.2" y1="276.1" x2="508.8" y2="276.1" stroke="#f08840" stroke-width="1"/>
<line x1="368.7" y1="288.02" x2="368.7" y2="300.07" stroke="#22ee22" stroke-width="1"/>
<line x1="366.4" y1="288.02" x2="371" y2="288.02" stroke="#22ee22" stroke-width="1"/>
<line x1="366.4" y1="300.07" x2="371" y2="300.07" stroke="#22ee22" stroke-width="1"/>
<line x1="438" y1="269.94" x2="438" y2="300.76" stroke="#22ee22" stroke-width="1"/>
<line x1="435.7" y1="269.94" x2="440.3" y2="269.94" stroke="#22ee22" stroke-width="1"/>
<line x1="435.7" y1="300.76" x2="440.3" y2="300.76" stroke="#22ee22" stroke-width="1"/>
<line x1="506.5" y1="259.32" x2="506.5" y2="274.73" stroke="#22ee22" stroke-width="1"/>
<line x1="504.2" y1="259.32" x2="508.8" y2="259.32" stroke="#22ee22" stroke-width="1"/>
<line x1="504.2" y1="274.73" x2="508.8" y2="274.73" stroke="#22ee22" stroke-width="1"/>
<polyline points="368.7,302.13 438,304.53 506.5,296.65" fill="none" stroke="#f0b8bc" stroke-width="1.1"/>
<polyline points="368.7,299.39 438,289.12 506.5,286.03" fill="none" stroke="#e8a868" stroke-width="1.1"/>
<polyline points="368.7,300.07 438,282.95 506.5,277.47" fill="none" stroke="#444444" stroke-width="1.1"/>
<polyline points="368.7,298.02 438,280.62 506.5,261.99" fill="none" stroke="#f08840" stroke-width="1.1"/>
<polyline points="368.7,293.98 438,285.21 506.5,267.26" fill="none" stroke="#22ee22" stroke-width="1.1"/>
<circle cx="368.7" cy="302.13" r="2.2" fill="#e8a4ac"/>
<circle cx="438" cy="304.53" r="2.2" fill="#e8a4ac"/>
<circle cx="506.5" cy="296.65" r="2.2" fill="#e8a4ac"/>
<circle cx="368.7" cy="299.39" r="2.2" fill="#d88c40"/>
<circle cx="438" cy="289.12" r="2.2" fill="#d88c40"/>
<circle cx="506.5" cy="286.03" r="2.2" fill="#d88c40"/>
<polygon points="368.7,297.65 366.28,301.83 371.12,301.83" fill="#1a1a1a"/>
<polygon points="438,280.53 435.58,284.71 440.42,284.71" fill="#1a1a1a"/>
<polygon points="506.5,275.05 504.08,279.23 508.92,279.23" fill="#1a1a1a"/>
<rect x="366.5" y="295.6" width="4.4" height="4.84" fill="#e8600c"/>
<rect x="435.8" y="278.2" width="4.4" height="4.84" fill="#e8600c"/>
<rect x="504.3" y="259.57" width="4.4" height="4.84" fill="#e8600c"/>
<polygon points="368.7,290.9 371.78,293.98 368.7,297.06 365.62,293.98" fill="#00ee00"/>
<polygon points="438,282.13 441.08,285.21 438,288.29 434.92,285.21" fill="#00ee00"/>
<polygon points="506.5,264.18 509.58,267.26 506.5,270.34 503.42,267.26" fill="#00ee00"/>
<line x1="334.5" y1="234" x2="334.5" y2="373" stroke="#2a2a2a" stroke-width="1"/>
<line x1="334" y1="372.5" x2="541.4" y2="372.5" stroke="#2a2a2a" stroke-width="1"/>
<text x="313.5" y="375.5" font-size="11.4" font-weight="bold" fill="#1e1212" stroke="#1e1212" stroke-width="0.35" textLength="20" lengthAdjust="spacingAndGlyphs">0.00</text>
<line x1="334.5" y1="337.5" x2="338.5" y2="337.5" stroke="#2a2a2a" stroke-width="1"/>
<text x="313.5" y="342.15" font-size="11.4" font-weight="bold" fill="#1e1212" stroke="#1e1212" stroke-width="0.35" textLength="20" lengthAdjust="spacingAndGlyphs">0.50</text>
<line x1="334.5" y1="303.5" x2="338.5" y2="303.5" stroke="#2a2a2a" stroke-width="1"/>
<text x="313.5" y="307.8" font-size="11.4" font-weight="bold" fill="#1e1212" stroke="#1e1212" stroke-width="0.35" textLength="20" lengthAdjust="spacingAndGlyphs">1.00</text>
<line x1="334.5" y1="269.5" x2="338.5" y2="269.5" stroke="#2a2a2a" stroke-width="1"/>
<text x="313.5" y="273.45" font-size="11.4" font-weight="bold" fill="#1e1212" stroke="#1e1212" stroke-width="0.35" textLength="20" lengthAdjust="spacingAndGlyphs">1.50</text>
<line x1="334.5" y1="234.5" x2="338.5" y2="234.5" stroke="#2a2a2a" stroke-width="1"/>
<text x="313.5" y="239.1" font-size="11.4" font-weight="bold" fill="#1e1212" stroke="#1e1212" stroke-width="0.35" textLength="20" lengthAdjust="spacingAndGlyphs">2.00</text>
<line x1="368.5" y1="369" x2="368.5" y2="372.5" stroke="#2a2a2a" stroke-width="1"/>
<line x1="438.5" y1="369" x2="438.5" y2="372.5" stroke="#2a2a2a" stroke-width="1"/>
<line x1="506.5" y1="369" x2="506.5" y2="372.5" stroke="#2a2a2a" stroke-width="1"/>
<text x="362.1" y="386.6" font-size="10" font-weight="bold" fill="#1e1212" stroke="#1e1212" stroke-width="0.35" textLength="13.3" lengthAdjust="spacingAndGlyphs">0 d</text>
<text x="428.4" y="386.6" font-size="10" font-weight="bold" fill="#1e1212" stroke="#1e1212" stroke-width="0.35" textLength="17.5" lengthAdjust="spacingAndGlyphs">21 d</text>
<text x="497.4" y="386.6" font-size="10" font-weight="bold" fill="#1e1212" stroke="#1e1212" stroke-width="0.35" textLength="17.2" lengthAdjust="spacingAndGlyphs">42 d</text>
<text x="390.7" y="400" font-size="10" font-weight="bold" fill="#1e1212" stroke="#1e1212" stroke-width="0.35" textLength="95.1" lengthAdjust="spacingAndGlyphs">Days post immunization</text>
<text transform="translate(295.5,323.7) scale(0.88,1) rotate(-90)" x="0" y="0" font-size="11" font-weight="bold" fill="#1e1212" stroke="#1e1212" stroke-width="0.35" textLength="55.8" lengthAdjust="spacingAndGlyphs">IgG2a/IgG1</text>
<text transform="translate(309.2,323.7) scale(0.88,1) rotate(-90)" x="0" y="0" font-size="11.2" font-weight="bold" fill="#1e1212" stroke="#1e1212" stroke-width="0.35" textLength="59.2" lengthAdjust="spacingAndGlyphs">(OD492 nm)</text>
<text x="286.3" y="231.7" font-size="19" font-weight="bold" fill="#1e1212" stroke="#1e1212" stroke-width="0.2" textLength="14.2" lengthAdjust="spacingAndGlyphs">D</text>
<line x1="343.8" y1="230.1" x2="357.2" y2="230.1" stroke="#f0b8bc" stroke-width="1.2"/>
<circle cx="350.3" cy="230.1" r="2.2" fill="#e8a4ac"/>
<text x="362.7" y="233.1" font-size="8.8" font-weight="bold" fill="#1e1212" stroke="#1e1212" stroke-width="0.35" textLength="13.3" lengthAdjust="spacingAndGlyphs">PBS</text>
<line x1="343.8" y1="242.1" x2="357.2" y2="242.1" stroke="#444444" stroke-width="1.2"/>
<polygon points="350.3,239.68 347.88,243.86 352.72,243.86" fill="#1a1a1a"/>
<text x="362.7" y="245.1" font-size="8.8" font-weight="bold" fill="#1e1212" stroke="#1e1212" stroke-width="0.35" textLength="44.4" lengthAdjust="spacingAndGlyphs">pVAX1-PLO</text>
<line x1="343.8" y1="253.2" x2="357.2" y2="253.2" stroke="#e8a868" stroke-width="1.2"/>
<circle cx="350.3" cy="253.2" r="2.2" fill="#d88c40"/>
<text x="362.7" y="256.2" font-size="8.8" font-weight="bold" fill="#1e1212" stroke="#1e1212" stroke-width="0.35" textLength="32.4" lengthAdjust="spacingAndGlyphs">His-PLO</text>
<line x1="343.8" y1="264" x2="357.2" y2="264" stroke="#22ee22" stroke-width="1.2"/>
<polygon points="350.3,260.92 353.38,264 350.3,267.08 347.22,264" fill="#00ee00"/>
<text x="362.7" y="267" font-size="8.8" font-weight="bold" fill="#1e1212" stroke="#1e1212" stroke-width="0.35" textLength="57.8" lengthAdjust="spacingAndGlyphs">P prime-D boost</text>
<line x1="343.8" y1="274.7" x2="357.2" y2="274.7" stroke="#f08840" stroke-width="1.2"/>
<rect x="348.1" y="272.28" width="4.4" height="4.84" fill="#e8600c"/>
<text x="362.7" y="277.7" font-size="8.8" font-weight="bold" fill="#1e1212" stroke="#1e1212" stroke-width="0.35" textLength="58" lengthAdjust="spacingAndGlyphs">D prime-P boost</text>
<text x="435.3" y="264.94" font-family="Liberation Sans, Arial, sans-serif" font-size="10.5" fill="#3a3a3a" textLength="3.8" lengthAdjust="spacingAndGlyphs">*</text>
<text x="504" y="246.54" font-family="Liberation Sans, Arial, sans-serif" font-size="10.5" fill="#3a3a3a" textLength="3.8" lengthAdjust="spacingAndGlyphs">*</text>
</svg>
</body></html>
